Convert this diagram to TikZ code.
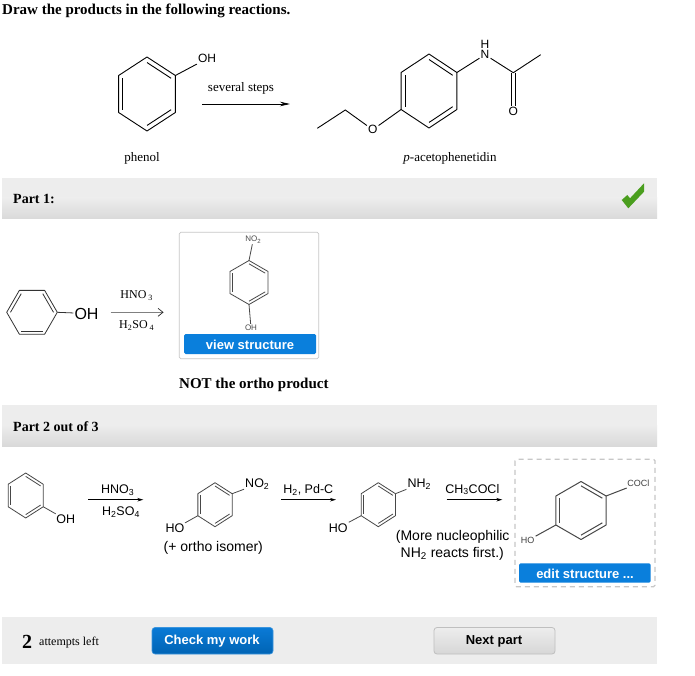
\documentclass[tikz,border=0pt]{standalone}
\usepackage{fontspec}
\setmainfont{Liberation Serif}
\setsansfont{Liberation Sans}
\usetikzlibrary{calc,arrows.meta}
\definecolor{btnblue}{HTML}{0A7FDC}
\definecolor{btntop}{HTML}{0A7AD6}
\definecolor{btnbot}{HTML}{0064B4}
\definecolor{checkgreen}{HTML}{4A9E1E}
\newcommand{\fs}[1]{\fontsize{#1}{#1}\selectfont}
% name, cx, cy, r, start angle, style, double edges; optional: horizontal squeeze
\newcommand{\benz}[8][1]{%
  \coordinate (#2c) at (#3,#4);
  \foreach \k in {1,...,6}{%
    \pgfmathsetmacro\angl{#6+60*(\k-1)}
    \coordinate (#2\k) at ({#3+#1*#5*cos(\angl)},{#4-#5*sin(\angl)});
  }
  \draw[#7,line join=round] (#21)--(#22)--(#23)--(#24)--(#25)--(#26)--cycle;
  \foreach \k/\m in {#8}{%
    \draw[#7] ($(#2c)!.85!(#2\k)$) -- ($(#2c)!.85!(#2\m)$);
  }
}
\tikzset{
  x=1pt,y=-1pt,
  bond/.style={line width=0.9pt,black},
  gbond/.style={line width=0.8pt,black!72},
  dbond/.style={line width=1pt,black!72},
  sans/.style={font=\sffamily\fs{#1},inner sep=1pt,yshift=-1.2pt},
  serif/.style={font=\fs{#1},inner sep=0pt,yshift=-1.5pt},
  bold/.style={font=\bfseries\fs{#1},inner sep=0pt,yshift=-1.2pt},
  rxn/.style={line width=0.8pt,-{Stealth[length=6pt,width=3.5pt]}},
  bigrxn/.style={line width=0.8pt,-{Stealth[length=10pt,width=4.5pt]}},
  btn/.style={fill=btnblue,rounded corners=1.5pt,draw=none},
  btntext/.style={font=\sffamily\bfseries\fs{#1},text=white,inner sep=0pt,yshift=-1pt},
  lightband/.style={fill=black!7,draw=none},
}
\begin{document}
\begin{tikzpicture}
\useasboundingbox[fill=white] (0,0) rectangle (695,676);

% title
\node[bold=15,anchor=west] (title) at (2,9.5) {Draw the products in the following reactions.};

% overall reaction
\benz[.885]{a}{147}{94}{37}{30}{bond}{1/2,3/4,5/6}
\node[sans=12] (aoh) at (207,57.5) {OH};
\draw[bond] (a1) -- (aoh);
\node[serif=13] (several) at (241,87) {several steps};
\coordinate (a0s) at (202,104); \coordinate (a0e) at (290,104);
\draw[bigrxn] (a0s) -- (a0e);
\node[serif=13] (phenol) at (142,157) {phenol};

\benz[.87]{b}{429}{91}{37}{30}{bond}{1/2,3/4,5/6}
\node[sans=12] (bn) at (485,53.5) {N};
\node[sans=12] (bh) at (485,43) {H};
\coordinate (bc) at (513.3,72.7);
\coordinate (bme) at (540.7,54.7);
\node[sans=12] (bo) at (513.3,110.5) {O};
\node[sans=12] (beo) at (372.7,128.5) {O};
\coordinate (bch) at (345.3,110);
\coordinate (bmm) at (317.3,128.3);
\draw[bond] (b1) -- (bn);
\draw[bond] (bn) -- (bc) -- (bme);
\draw[bond] ($(bc)+(-1.8,0)$) -- ($(bo.north)+(-1.8,0)$);
\draw[bond] ($(bc)+(1.8,0)$) -- ($(bo.north)+(1.8,0)$);
\draw[bond] (b4) -- (beo) -- (bch) -- (bmm);
\node[serif=13] (pacet) at (450,157) {\textit{p}-acetophenetidin};

% Part 1 band
\fill[lightband] (2,178) rectangle (657,198);
\shade[top color=black!7,bottom color=black!15] (2,198) rectangle (657,219);
\node[bold=14,anchor=west] (part1) at (13,198) {Part 1:};
\fill[checkgreen] (621.7,200) -- (628.3,208.3) -- (644,191.7) -- (644,183.3) -- (630,198.3) -- (627.3,195) -- cycle;

% Part 1 reaction
\benz{c}{32}{312.3}{25.3}{0}{line width=0.8pt,black!80}{1/2,3/4,5/6}
\node[sans=16] (coh) at (86.5,312.3) {OH};
\draw[line width=0.8pt,black!80] (c1) -- (coh);
\node[serif=12] (chno) at (136.7,294) {HNO\,\textsubscript{3}};
\node[serif=12] (chso) at (136.7,324) {H\textsubscript{2}SO\,\textsubscript{4}};
\coordinate (c0s) at (110.7,312.3); \coordinate (c0e) at (163,312.3);
\draw[line width=1pt,black!50] (c0s) -- (c0e);
\draw[line width=0.7pt,black!85] ($(c0e)+(-5,-4)$) -- (c0e) -- ($(c0e)+(-5,4)$);

\draw[black!22,line width=0.8pt,rounded corners=1.5pt] (179.3,232.3) rectangle (318.7,358.7);
\node[sans=8,text=black!70] (dno) at (253.3,238.3) {NO\textsubscript{2}};
\benz{d}{249}{282.5}{22}{30}{gbond}{1/2,3/4,5/6}
\draw[gbond] (d2) -- (dno);
\node[sans=8,text=black!70] (doh) at (251,326.7) {OH};
\draw[gbond] (d5) -- (doh);
\draw[btn] (184,334) rectangle (316,354);
\node[btntext=13] (dbtn) at (250,344) {view structure};
\node[bold=15,anchor=west] (notortho) at (179,384) {NOT the ortho product};

% Part 2 band
\fill[lightband] (2,405) rectangle (657,425);
\shade[top color=black!7,bottom color=black!15] (2,425) rectangle (657,446);
\node[bold=14,anchor=west] (part2) at (13,425) {Part 2 out of 3};

% Part 2 reaction
\benz[.9]{e}{25.7}{495.5}{22.5}{30}{gbond}{1/2,3/4,5/6}
\node[sans=12.5] (eoh) at (65.7,518.3) {OH};
\draw[gbond] (e6) -- (eoh);
\node[sans=12.5] (ehno) at (117.7,489) {HNO\textsubscript{3}};
\node[sans=12.5] (ehso) at (121,511) {H\textsubscript{2}SO\textsubscript{4}};
\coordinate (e0s) at (88.3,499.7); \coordinate (e0e) at (143.3,499.7);
\draw[rxn] (e0s) -- (e0e);

\benz[.9]{f}{215}{504.7}{22}{30}{gbond}{1/2,3/4,5/6}
\node[sans=12.5] (fno) at (257.3,483) {NO\textsubscript{2}};
\node[sans=12.5] (fho) at (175,527.3) {HO};
\draw[gbond] (f1) -- (fno);
\draw[gbond] (f4) -- (fho);
\node[sans=14] (fiso) at (213.3,546.7) {(+ ortho isomer)};
\node[sans=12.5] (fpd) at (308.3,488.3) {H\textsubscript{2}, Pd-C};
\coordinate (f0s) at (281,499.7); \coordinate (f0e) at (336,499.7);
\draw[rxn] (f0s) -- (f0e);

\benz[.9]{g}{378.3}{504.7}{22}{30}{gbond}{1/2,3/4,5/6}
\node[sans=12.5] (gnh) at (419.3,483) {NH\textsubscript{2}};
\node[sans=12.5] (gho) at (338.3,526.7) {HO};
\draw[gbond] (g1) -- (gnh);
\draw[gbond] (g4) -- (gho);
\node[sans=12.5] (gcoc) at (472.3,488.3) {CH\textsubscript{3}COCl};
\coordinate (g0s) at (446.7,499.7); \coordinate (g0e) at (502.3,499.7);
\draw[rxn] (g0s) -- (g0e);
\node[sans=14] (gn1) at (452.7,535.7) {(More nucleophilic};
\node[sans=14] (gn2) at (452.3,552.7) {NH\textsubscript{2} reacts first.)};

\draw[black!22,line width=1.2pt,dash pattern=on 5pt off 4pt,rounded corners=1.5pt] (515,459.3) rectangle (655,586.7);
\benz{h}{581}{510.5}{29}{30}{dbond}{1/2,3/4,5/6}
\node[sans=9,text=black!75] (hcoc) at (638.3,482.3) {COCl};
\node[sans=9,text=black!75] (hho) at (527.7,539.3) {HO};
\draw[dbond] (h1) -- (hcoc);
\draw[dbond] (h4) -- (hho);
\draw[btn] (519,563.3) rectangle (650.7,582.7);
\node[btntext=13] (hbtn) at (585,572.7) {edit structure ...};

% bottom bar
\fill[black!7] (2,617) rectangle (657,664);
\node[bold=20,anchor=west] (two) at (22,641) {2};
\node[serif=12,anchor=west] (att) at (39,641) {attempts left};
\draw[draw=btntop!80,top color=btntop,bottom color=btnbot,rounded corners=3pt,line width=0.6pt] (152,627.5) rectangle (273,654);
\node[btntext=13] (chk) at (212,640) {Check my work};
\draw[draw=black!25,top color=black!7,bottom color=black!16,rounded corners=3pt,line width=0.8pt] (434,627.5) rectangle (555,654);
\node[font=\sffamily\bfseries\fs{13},inner sep=0pt,yshift=-1pt] (nxt) at (494,640) {Next part};
\end{tikzpicture}
\end{document}
